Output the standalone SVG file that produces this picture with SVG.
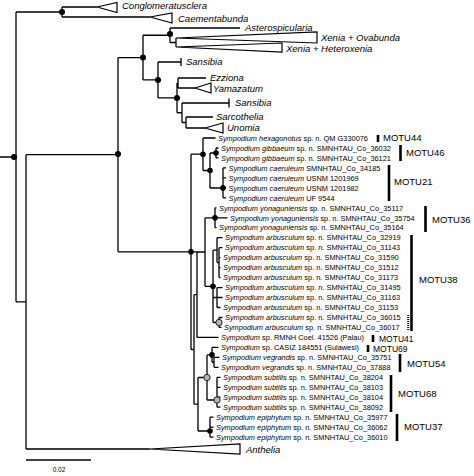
<svg xmlns="http://www.w3.org/2000/svg" width="474" height="476" viewBox="0 0 474 476">
<style>
.br{fill:none;stroke:#000;stroke-width:1.3}
.tri{fill:#fff;stroke:#000;stroke-width:1.2;stroke-linejoin:miter}
.big{font-family:"Liberation Sans",Arial,sans-serif;font-style:italic;font-size:9.5px;fill:#000}
.tip{font-family:"Liberation Sans",Arial,sans-serif;font-size:7.4px;fill:#000}
.it{font-style:italic}
.motu{font-family:"Liberation Sans",Arial,sans-serif;font-size:9.5px;fill:#000}
.motu-s{font-size:8.5px}
.bar{stroke:#000;stroke-width:2.6}
.dot{fill:#000}
.gdot{fill:#b4b4b4;stroke:#000;stroke-width:0.8}
.scale{font-family:"Liberation Sans",Arial,sans-serif;font-size:6.5px;fill:#000}
</style>
<rect width="474" height="476" fill="#fff"/>
<g id="connectors" class="br">
<path d="M0,157H16M16,12V301.8M16,12H62M62,7V17M62,7H97M62,17H150M16,301.8H26M26,154.7V449M26,449H150M26,154.7H118"/>
<path d="M118,57.6V251.8M118,57.6H143M143,35.25V79.9M143,35.25H170M170,28V42.5M170,28H240M170,42.5H176M176,38V47"/>
<path d="M143,79.9H158M158,62V97.9M158,62H181M181,58V66M158,97.9H177M177,83V112.75M177,83H178M178,78V88M178,78H206M178,88H195M177,112.75H182M182,103V122.5M182,103H229M229,98.5V107.5M182,122.5H186M186,117V128M186,117H213M186,128H205"/>
<path d="M118,251.8H197M191,154.2V349.5M191,154.2H203M203,138V170.5M203,138H215.5M203,170.5H210M210,153V188M210,153H216M216,148V157.9M216,148H218.5M216,157.9H218.5M210,188H223M223,167.9V197.8M223,167.9H226M223,177.9H226M223,187.9H226M223,197.8H226"/>
<path d="M191,349.5H194M194,294.7V404.2M194,294.7H197M197,252V337.4M197,252H205M205,217.8V286.3M205,217.8H215M215,207.8V227.7M215,207.8H216.5M215,217.8H227.5M215,227.7H216.5"/>
<path d="M205,286.3H213M213,250.2V322.5M213,250.2H217M217,237.7V262.6M217,237.7H222.5M217,262.6H219M219,247.7V277.6M219,247.7H222.5M219,257.6H220.5M219,267.6H220.5M219,277.6H220.5M213,297.5H217M217,287.6V307.5M217,287.6H222.5M217,297.5H222.5M217,307.5H220.5M213,322.5H219M219,317.5V327.4M219,317.5H222.5M219,327.4H221.5M197,337.4H218.5"/>
<path d="M194,404.2H198M198,377.5V431M198,377.5H207M207,354.9V400M207,354.9H212M212,347.4V362.3M212,347.4H218.5M212,362.3H214M214,357.3V367.3M214,357.3H219.5M214,367.3H218.5M207,400H217M217,377.3V407.2M217,377.3H220.5M217,387.3H220.5M217,397.2H220.5M217,407.2H220.5M198,431H210M210,417.2V437.1M210,417.2H213.5M210,427.1H213.5M210,437.1H213.5"/>
</g>
<g id="scale-bar">
<path class="br" d="M26,460H91"/>
<text class="scale" x="59" y="471.5" text-anchor="middle">0.02</text>
</g>
<g id="clade-conglomeratusclera"><polygon class="tri" points="97,7 117,2.5 117,12.5"/><text class="big" x="122" y="9.4">Conglomeratusclera</text></g>
<g id="clade-caementabunda"><polygon class="tri" points="150,17 172,13 172,23"/><text class="big" x="178" y="21.6">Caementabunda</text></g>
<g id="tip-asterospicularia"><text class="big" x="245" y="31.2">Asterospicularia</text></g>
<g id="clade-xenia-ovabunda"><polygon class="tri" points="176,38 317,32 317,43"/><text class="big" x="321" y="41.4">Xenia + Ovabunda</text></g>
<g id="clade-xenia-heteroxenia"><polygon class="tri" points="176,47 282,43 282,52"/><text class="big" x="286" y="52.4">Xenia + Heteroxenia</text></g>
<g id="tip-sansibia-1"><text class="big" x="186" y="65.4">Sansibia</text></g>
<g id="tip-ezziona"><text class="big" x="210" y="81.4">Ezziona</text></g>
<g id="clade-yamazatum"><polygon class="tri" points="195,88 211,83 211,93"/><text class="big" x="213" y="91.9">Yamazatum</text></g>
<g id="tip-sansibia-2"><text class="big" x="235" y="106.4">Sansibia</text></g>
<g id="tip-sarcothelia"><text class="big" x="216" y="120.4">Sarcothelia</text></g>
<g id="clade-unomia"><polygon class="tri" points="205,128 223,123 223,133"/><text class="big" x="227" y="131.4">Unomia</text></g>
<g id="clade-anthelia"><polygon class="tri" points="150,449 240,444 240,454"/><text class="big" x="246" y="453.4">Anthelia</text></g>
<g id="tips-sympodium" class="tip">
<text x="218" y="140.7"><tspan class="it">Sympodium hexagonotus</tspan> sp. n. QM G330076</text>
<text x="221" y="150.7"><tspan class="it">Sympodium gibbaeum</tspan> sp. n. SMNHTAU_Co_36032</text>
<text x="221" y="160.6"><tspan class="it">Sympodium gibbaeum</tspan> sp. n. SMNHTAU_Co_36121</text>
<text x="228.5" y="170.6"><tspan class="it">Sympodium caeruleum</tspan> SMNHTAU_Co_34185</text>
<text x="228.5" y="180.6"><tspan class="it">Sympodium caeruleum</tspan> USNM 1201969</text>
<text x="228.5" y="190.6"><tspan class="it">Sympodium caeruleum</tspan> USNM 1201982</text>
<text x="228.5" y="200.5"><tspan class="it">Sympodium caeruleum</tspan> UF 9544</text>
<text x="219" y="210.5"><tspan class="it">Sympodium yonaguniensis</tspan> sp. n. SMNHTAU_Co_35117</text>
<text x="230" y="220.5"><tspan class="it">Sympodium yonaguniensis</tspan> sp. n. SMNHTAU_Co_35754</text>
<text x="219" y="230.4"><tspan class="it">Sympodium yonaguniensis</tspan> sp. n. SMNHTAU_Co_35164</text>
<text x="225" y="240.4"><tspan class="it">Sympodium arbusculum</tspan> sp. n. SMNHTAU_Co_32919</text>
<text x="225" y="250.4"><tspan class="it">Sympodium arbusculum</tspan> sp. n. SMNHTAU_Co_31143</text>
<text x="223" y="260.3"><tspan class="it">Sympodium arbusculum</tspan> sp. n. SMNHTAU_Co_31590</text>
<text x="223" y="270.3"><tspan class="it">Sympodium arbusculum</tspan> sp. n. SMNHTAU_Co_31512</text>
<text x="223" y="280.3"><tspan class="it">Sympodium arbusculum</tspan> sp. n. SMNHTAU_Co_31173</text>
<text x="225" y="290.3"><tspan class="it">Sympodium arbusculum</tspan> sp. n. SMNHTAU_Co_31495</text>
<text x="225" y="300.2"><tspan class="it">Sympodium arbusculum</tspan> sp. n. SMNHTAU_Co_31163</text>
<text x="223" y="310.2"><tspan class="it">Sympodium arbusculum</tspan> sp. n. SMNHTAU_Co_31153</text>
<text x="225" y="320.2"><tspan class="it">Sympodium arbusculum</tspan> sp. n. SMNHTAU_Co_36015</text>
<text x="224" y="330.1"><tspan class="it">Sympodium arbusculum</tspan> sp. n. SMNHTAU_Co_36017</text>
<text x="221" y="340.1"><tspan class="it">Sympodium</tspan> sp. RMNH Coel. 41526 (Palau)</text>
<text x="221" y="350.1"><tspan class="it">Sympodium</tspan> sp. CASIZ 184551 (Sulawesi)</text>
<text x="222" y="360"><tspan class="it">Sympodium vegrandis</tspan> sp. n. SMNHTAU_Co_35751</text>
<text x="221" y="370"><tspan class="it">Sympodium vegrandis</tspan> sp. n. SMNHTAU_Co_37888</text>
<text x="223" y="380"><tspan class="it">Sympodium subtilis</tspan> sp. n. SMNHTAU_Co_38204</text>
<text x="223" y="390"><tspan class="it">Sympodium subtilis</tspan> sp. n. SMNHTAU_Co_38103</text>
<text x="223" y="399.9"><tspan class="it">Sympodium subtilis</tspan> sp. n. SMNHTAU_Co_38104</text>
<text x="223" y="409.9"><tspan class="it">Sympodium subtilis</tspan> sp. n. SMNHTAU_Co_38092</text>
<text x="216" y="419.9"><tspan class="it">Sympodium epiphytum</tspan> sp. n. SMNHTAU_Co_35977</text>
<text x="216" y="429.8"><tspan class="it">Sympodium epiphytum</tspan> sp. n. SMNHTAU_Co_36062</text>
<text x="216" y="439.8"><tspan class="it">Sympodium epiphytum</tspan> sp. n. SMNHTAU_Co_36010</text>
</g>
<g id="node-supports">
<circle class="dot" cx="14" cy="157" r="3"/>
<circle class="dot" cx="62" cy="12" r="3"/>
<circle class="dot" cx="170" cy="34" r="3"/>
<circle class="dot" cx="143" cy="57.6" r="3"/>
<circle class="dot" cx="158" cy="79.9" r="3"/>
<circle class="dot" cx="177" cy="97.9" r="3"/>
<circle class="dot" cx="118" cy="154" r="3"/>
<circle class="dot" cx="191" cy="251.8" r="2.8"/>
<circle class="dot" cx="203" cy="154.2" r="2.8"/>
<circle class="dot" cx="210" cy="170.5" r="2.8"/>
<circle class="dot" cx="216" cy="153" r="2.8"/>
<circle class="dot" cx="223" cy="187.9" r="2.8"/>
<circle class="dot" cx="215" cy="217.8" r="2.8"/>
<circle class="dot" cx="213" cy="286.3" r="2.8"/>
<circle class="dot" cx="212" cy="354.9" r="2.8"/>
<circle class="dot" cx="210" cy="431" r="2.8"/>
<circle class="gdot" cx="219" cy="322.5" r="3.2"/>
<circle class="gdot" cx="207" cy="377.5" r="3.2"/>
<circle class="gdot" cx="217" cy="400" r="3.2"/>
</g>
<g id="motu44"><line class="bar" x1="378" y1="135" x2="378" y2="142"/><text class="motu" x="383" y="141.4">MOTU44</text></g>
<g id="motu46"><line class="bar" x1="400.5" y1="145" x2="400.5" y2="161"/><text class="motu" x="406" y="156.4">MOTU46</text></g>
<g id="motu21"><line class="bar" x1="389" y1="165" x2="389" y2="201"/><text class="motu" x="394" y="185.4">MOTU21</text></g>
<g id="motu36"><line class="bar" x1="425.5" y1="206" x2="425.5" y2="232"/><text class="motu" x="432" y="223.4">MOTU36</text></g>
<g id="motu38"><line class="bar" x1="411.5" y1="235" x2="411.5" y2="331"/><line x1="408.2" y1="315" x2="408.2" y2="331" stroke="#000" stroke-width="2" stroke-dasharray="1 1"/><text class="motu" x="419" y="283.4">MOTU38</text></g>
<g id="motu41"><line class="bar" x1="373" y1="335" x2="373" y2="342"/><text class="motu motu-s" x="379" y="341.6">MOTU41</text></g>
<g id="motu69"><line class="bar" x1="368" y1="345" x2="368" y2="352"/><text class="motu motu-s" x="373" y="351.8">MOTU69</text></g>
<g id="motu54"><line class="bar" x1="400" y1="354" x2="400" y2="372"/><text class="motu" x="407" y="366.6">MOTU54</text></g>
<g id="motu68"><line class="bar" x1="391" y1="375" x2="391" y2="412"/><text class="motu" x="398" y="396.6">MOTU68</text></g>
<g id="motu37"><line class="bar" x1="397" y1="414" x2="397" y2="441"/><text class="motu" x="404" y="430.4">MOTU37</text></g>
</svg>
